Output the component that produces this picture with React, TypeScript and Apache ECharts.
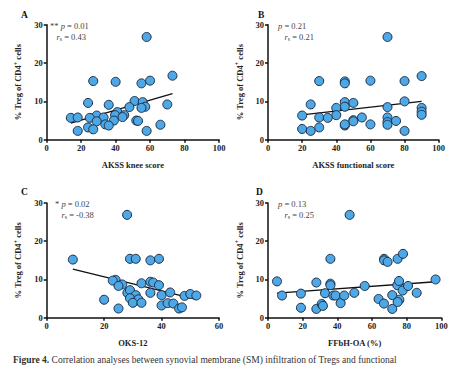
import React, { useEffect, useRef } from "react";
import * as echarts from "echarts";

// Panel A: AKSS knee score vs % Treg
const panelA: number[][] = [
  [58, 26.8], [73, 16.7], [27, 15.3], [40, 15.1], [55, 14.7], [60, 15.4],
  [24, 9.6], [36, 9.1], [51, 10.1], [55.7, 9.8], [57.2, 8.6], [55, 8.3],
  [48, 8.5], [70, 9.2], [41, 7.2], [39.7, 6.4], [45, 6.4], [44, 5.9],
  [29, 6.3], [33, 5.8], [14, 5.7], [18, 5.8], [25, 5.7], [29, 4.8],
  [39, 5.0], [52, 5.0], [53, 4.9], [34, 4.0], [36, 3.7], [24, 3.2],
  [27, 2.7], [18, 2.3], [58, 2.3], [66, 3.9],
];
const fitA: number[][] = [[14, 4.3], [73, 12.0]];

// Panel B: AKSS functional score vs % Treg
const panelB: number[][] = [
  [70, 26.8], [90, 16.6], [30, 15.3], [45, 15.2], [45, 14.7], [60, 15.4],
  [80, 15.3], [20, 6.3], [25, 9.2], [45, 9.8], [45, 8.6], [50, 9.6],
  [40, 8.3], [40, 6.4], [30, 5.8], [35, 5.7], [55, 5.8], [60, 4.0],
  [50, 5.1], [50, 4.8], [45, 3.7], [45, 4.0], [30, 3.2], [20, 2.8],
  [25, 2.3], [70, 8.5], [70, 5.8], [70, 4.6], [70, 3.9], [75, 4.9],
  [80, 10.0], [80, 2.3], [90, 8.3], [90, 7.3], [90, 6.5],
];
const fitB: number[][] = [[20, 6.5], [90, 10.0]];

// Panel C: OKS-12 vs % Treg
const panelC: number[][] = [
  [28, 26.9], [9.1, 15.2], [29, 15.4], [31, 15.4], [36.1, 15.0], [39.1, 15.4],
  [24, 9.9], [23, 9.7], [26.3, 8.7], [25, 8.3], [33, 9.0], [36.1, 9.4],
  [37.1, 9.2], [39.1, 8.5], [28.1, 6.5], [29, 7.2], [36.1, 6.5], [31, 5.9],
  [29, 5.1], [31.9, 4.8], [30, 3.9], [33, 3.9], [20, 4.7], [25, 2.4],
  [40, 5.9], [40, 3.2], [43, 6.6], [42.1, 3.8], [44.1, 3.7], [46.1, 2.4],
  [47.1, 2.7], [48, 5.7], [50, 6.2], [52.1, 5.8],
];
const fitC: number[][] = [[9.1, 12.7], [52.1, 4.8]];

// Panel D: FFbH-OA (%) vs % Treg
const panelD: number[][] = [
  [47.1, 26.9], [5.2, 9.5], [8.1, 5.8], [19, 6.3], [19, 2.6], [27.9, 9.2],
  [27.9, 2.3], [36, 15.4], [36, 8.9], [36, 8.5], [32.9, 6.4], [37.7, 5.8],
  [39, 5.8], [31, 3.6], [31.7, 3.1], [41.9, 3.8], [44, 5.8], [49.8, 6.5],
  [55.8, 8.3], [63.8, 4.9], [66.9, 3.7], [67, 15.4], [67, 15.0], [69, 14.6],
  [74.8, 15.4], [77.9, 16.7], [71.7, 5.9], [71.7, 2.3], [74.6, 8.5], [75.6, 9.6],
  [75.8, 4.7], [74.8, 4.1], [77.7, 7.1], [80.8, 8.3], [85.8, 6.5], [96.7, 10.0],
];
const fitD: number[][] = [[5.2, 6.45], [96.7, 9.4]];

const xTitles = ["AKSS knee score", "AKSS functional score", "OKS-12", "FFbH-OA (%)"];
const xMax = [100, 100, 60, 100];
const yTicksMax = 30;
const panelLetters = ["A", "B", "C", "D"];
const pLabels = ["** ", "", "* ", ""];
const pValues = ["0.01", "0.21", "0.02", "0.13"];
const rsValues = ["0.43", "0.21", "-0.38", "0.25"];

const FONT = "'Liberation Serif', 'DejaVu Serif', serif";

export default function App() {
  const ref = useRef<HTMLDivElement>(null);
  useEffect(() => {
    if (!ref.current) return;
    const chart = echarts.init(ref.current, undefined, { renderer: "svg" });
    const grids = [
      { left: 46.7, top: 24.7, width: 172.3, height: 115 },
      { left: 268, top: 24.7, width: 170.7, height: 115 },
      { left: 46.7, top: 203, width: 172.3, height: 114.7 },
      { left: 268, top: 203, width: 173.3, height: 114.7 },
    ];
    const datasets = [panelA, panelB, panelC, panelD];
    const fits = [fitA, fitB, fitC, fitD];
    const axisLabelStyle = {
      fontSize: 8.5,
      fontWeight: "bold" as const,
      color: "#222",
      fontFamily: FONT,
      margin: 4,
    };
    const axisLine = { show: true, lineStyle: { color: "#111", width: 1.5 } };
    const axisTick = { show: true, length: 3, lineStyle: { color: "#111", width: 1.5 } };

    const xAxis = grids.map((_, i) => ({
      gridIndex: i,
      type: "value",
      min: 0,
      max: xMax[i],
      interval: 20,
      axisLine,
      axisTick,
      splitLine: { show: false },
      axisLabel: axisLabelStyle,
      name: xTitles[i],
      nameLocation: "middle",
      nameGap: 21,
      nameTextStyle: { fontSize: 8.5, fontWeight: "bold", color: "#222", fontFamily: FONT },
    }));
    const yAxis = grids.map((_, i) => ({
      gridIndex: i,
      type: "value",
      min: 0,
      max: yTicksMax,
      interval: 10,
      axisLine,
      axisTick,
      splitLine: { show: false },
      axisLabel: axisLabelStyle,
      name: "% Treg of CD4{sup|+} cells",
      nameLocation: "middle",
      nameRotate: 90,
      nameGap: 23,
      nameTextStyle: {
        fontSize: 8.5,
        fontWeight: "bold",
        color: "#222",
        fontFamily: FONT,
        rich: {
          sup: { fontSize: 6, fontWeight: "bold", color: "#222", fontFamily: FONT, verticalAlign: "top", padding: [0, 0, 5, 0] },
        },
      },
    }));

    const series: any[] = [];
    datasets.forEach((d, i) => {
      series.push({
        type: "line",
        xAxisIndex: i,
        yAxisIndex: i,
        data: fits[i],
        symbol: "none",
        lineStyle: { color: "#111", width: 1.3 },
        z: 2,
      });
      series.push({
        type: "scatter",
        xAxisIndex: i,
        yAxisIndex: i,
        data: d,
        symbolSize: 9,
        itemStyle: { color: "#4fa8e6", borderColor: "#1c2f48", borderWidth: 1, opacity: 1 },
        z: 3,
      });
    });

    const letterPos = [[21, 10], [258, 10], [21, 187], [256, 187]];
    const annotPos = [[50, 20], [278, 20], [55, 198], [278, 198]];
    const textStyleBase = { fill: "#444", fontFamily: FONT, fontSize: 8.5 };
    const graphic: any[] = [];
    panelLetters.forEach((L, i) => {
      graphic.push({
        type: "text",
        left: letterPos[i][0],
        top: letterPos[i][1],
        style: { text: L, fontSize: 9.5, fontWeight: "bold", fill: "#111", fontFamily: FONT },
      });
      graphic.push({
        type: "text",
        left: annotPos[i][0],
        top: annotPos[i][1],
        style: {
          text: `${pLabels[i]}{i|p} = ${pValues[i]}\n   {i|r}{sub|s} = ${rsValues[i]}`,
          ...textStyleBase,
          lineHeight: 11,
          rich: {
            i: { ...textStyleBase, fontStyle: "italic", lineHeight: 11 },
            sub: { ...textStyleBase, fontSize: 6, verticalAlign: "bottom", padding: [4, 0, 0, 0], lineHeight: 11 },
          },
        },
      });
    });
    graphic.push({
      type: "text",
      left: 13,
      top: 355,
      style: {
        text: "{b|Figure 4.} Correlation analyses between synovial membrane (SM) infiltration of Tregs and functional",
        fill: "#333",
        fontFamily: FONT,
        fontSize: 9.5,
        rich: { b: { fontWeight: "bold", fill: "#333", fontFamily: FONT, fontSize: 9.5 } },
      },
    });

    chart.setOption({
      animation: false,
      backgroundColor: "#fff",
      grid: grids.map((g) => ({ ...g, containLabel: false })),
      xAxis,
      yAxis,
      series,
      graphic,
    });
    return () => chart.dispose();
  }, []);
  return <div ref={ref} style={{ width: 474, height: 366, position: "absolute", left: 0, top: 0 }} />;
}
